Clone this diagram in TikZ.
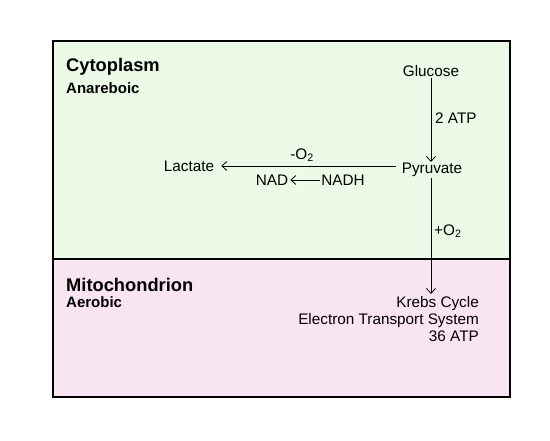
\documentclass[tikz,border=0pt]{standalone}
\usepackage{fontspec}
\setmainfont{Liberation Sans}
\usetikzlibrary{arrows.meta}
\definecolor{cytogreen}{RGB}{236,250,232}
\definecolor{mitopink}{RGB}{249,229,241}
\tikzset{
  txt/.style={inner sep=1pt, font=\fontsize{15.3}{17}\selectfont},
  title/.style={anchor=base west, inner sep=0pt, font=\fontsize{18.3}{20}\selectfont\bfseries},
  subtitle/.style={anchor=base west, inner sep=0pt, font=\fontsize{15}{17}\selectfont\bfseries},
  flow/.style={-{Straight Barb[length=5pt,width=9pt]}, line width=0.8pt}
}
\begin{document}
\begin{tikzpicture}[x=1pt,y=-1pt]
    \useasboundingbox (0,0) rectangle (550,440);
    \fill[cytogreen] (53,41) rectangle (510,259);
    \fill[mitopink] (53,259) rectangle (510,397);
    \draw[line width=1.3pt] (53,41) rectangle (510,397);
    \draw[line width=1.5pt] (53,259) -- (510,259);
    \node[title] (cyto) at (66,71) {Cytoplasm};
    \node[subtitle] (anaer) at (66,93) {Anareboic};
    \node[title] (mito) at (66,291) {Mitochondrion};
    \node[subtitle] (aer) at (66,307) {Aerobic};
    \node[txt] (glucose) at (431,71) {Glucose};
    \node[txt] (pyruvate) at (432,170) {Pyruvate};
    \node[txt] (lactate) at (189,166) {Lactate};
    \node[txt] (minus) at (302,155) {-O\textsubscript{2}};
    \node[txt] (nad) at (272,180) {NAD};
    \node[txt] (nadh) at (343,180) {NADH};
    \node[txt, anchor=west] (atp) at (434,118) {2 ATP};
    \node[txt, anchor=west] (plus) at (433,231) {+O\textsubscript{2}};
    \node[txt, anchor=north east, align=right, inner sep=2pt] (krebs) at (481,294)
        {Krebs Cycle\\Electron Transport System\\36 ATP};
    \draw[flow] (glucose.south -| 431,0) -- (pyruvate.north -| 431,0);
    \draw[flow, shorten <=5pt, shorten >=6pt] (lactate.east -| pyruvate.west) -- (lactate);
    \draw[flow, shorten >=1pt] (nadh) -- (nad);
    \draw[flow] (pyruvate.south -| 431,0) -- (krebs.north -| 431,0);
\end{tikzpicture}
\end{document}
